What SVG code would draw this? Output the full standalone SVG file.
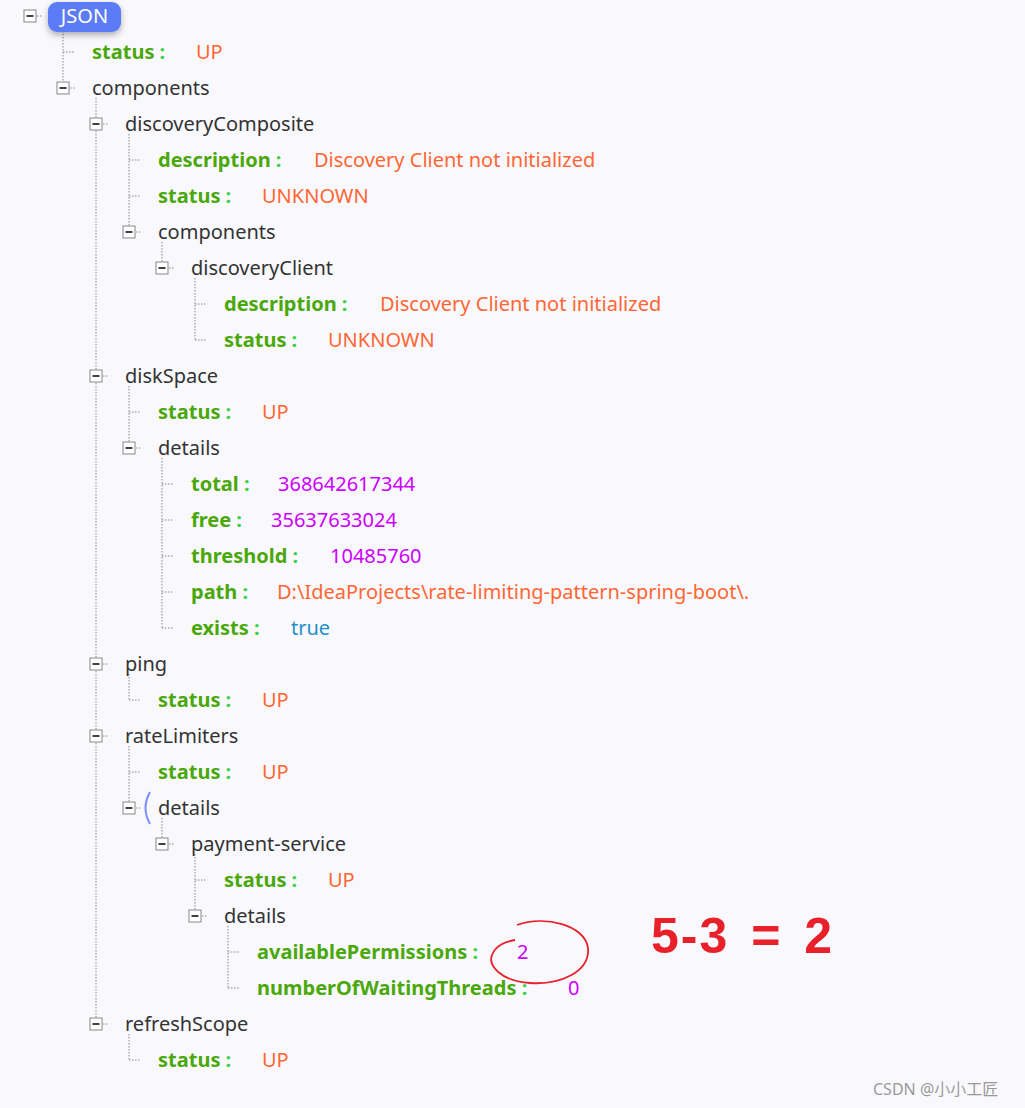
<svg xmlns="http://www.w3.org/2000/svg" width="1025" height="1108" viewBox="0 0 1025 1108">
<defs>
<style>
.ln{stroke:#888;stroke-width:1;stroke-dasharray:1.5 1.5;fill:none}
.bx{fill:#fff;stroke:#888;stroke-width:1}
.mn{stroke:#000;stroke-width:1.5}
text{font-family:"Noto Sans","Open Sans",sans-serif;font-size:20px}
.lb{fill:#333}
.k{fill:#4aa80b;font-weight:bold}
.c{fill:#3fd04a;font-weight:bold}
.s{fill:#ff6633}
.n{fill:#cc00ff}
.b{fill:#1e90c8}
</style>
<filter id="sh" x="-20%" y="-30%" width="140%" height="170%"><feDropShadow dx="0" dy="3" stdDeviation="3" flood-color="#000" flood-opacity="0.3"/></filter>
<symbol id="tg" overflow="visible"><rect class="bx" x="-6" y="-6" width="12" height="12"/><line class="mn" x1="-3.5" y1="0" x2="3.5" y2="0"/><line class="ln" x1="7" y1="0" x2="12" y2="0"/></symbol>
</defs>
<rect width="1025" height="1108" fill="#f9f9fd"/>
<g id="connectors">
<path class="ln" d="M63 28V82 M96 98V1018 M129 134V226 M162 242V262 M195 278V340 M129 386V442 M162 458V628 M129 674V700 M129 746V802 M162 818V838 M195 854V910 M228 926V988 M129 1034V1060"/>
<path class="ln" d="M63 52h12 M129 160h12 M129 196h12 M195 304h12 M195 340h12 M129 412h12 M162 484h12 M162 520h12 M162 556h12 M162 592h12 M162 628h12 M129 700h12 M129 772h12 M195 880h12 M228 952h12 M228 988h12 M129 1060h12"/>
</g>
<g id="toggles">
<use href="#tg" x="30" y="16"/><use href="#tg" x="63" y="88"/><use href="#tg" x="96" y="124"/><use href="#tg" x="129" y="232"/><use href="#tg" x="162" y="268"/><use href="#tg" x="96" y="376"/><use href="#tg" x="129" y="448"/><use href="#tg" x="96" y="664"/><use href="#tg" x="96" y="736"/><use href="#tg" x="129" y="808"/><use href="#tg" x="162" y="844"/><use href="#tg" x="195" y="916"/><use href="#tg" x="96" y="1024"/>
</g>
<g id="root">
<rect x="48" y="2" width="73" height="30" rx="9" fill="#5b7cf7" filter="url(#sh)"/>
<text x="84.5" y="23" text-anchor="middle" fill="#fff">JSON</text>
</g>
<g id="labels">
<text x="92" y="59"><tspan class="k">status</tspan><tspan class="c"> :</tspan></text><text class="s" x="196" y="59">UP</text>
<text class="lb" x="92" y="95">components</text>
<text class="lb" x="125" y="131">discoveryComposite</text>
<text x="158" y="167"><tspan class="k">description</tspan><tspan class="c"> :</tspan></text><text class="s" x="314" y="167">Discovery Client not initialized</text>
<text x="158" y="203"><tspan class="k">status</tspan><tspan class="c"> :</tspan></text><text class="s" x="262" y="203">UNKNOWN</text>
<text class="lb" x="158" y="239">components</text>
<text class="lb" x="191" y="275">discoveryClient</text>
<text x="224" y="311"><tspan class="k">description</tspan><tspan class="c"> :</tspan></text><text class="s" x="380" y="311">Discovery Client not initialized</text>
<text x="224" y="347"><tspan class="k">status</tspan><tspan class="c"> :</tspan></text><text class="s" x="328" y="347">UNKNOWN</text>
<text class="lb" x="125" y="383">diskSpace</text>
<text x="158" y="419"><tspan class="k">status</tspan><tspan class="c"> :</tspan></text><text class="s" x="262" y="419">UP</text>
<text class="lb" x="158" y="455">details</text>
<text x="191" y="491"><tspan class="k">total</tspan><tspan class="c"> :</tspan></text><text class="n" x="278" y="491">368642617344</text>
<text x="191" y="527"><tspan class="k">free</tspan><tspan class="c"> :</tspan></text><text class="n" x="271" y="527">35637633024</text>
<text x="191" y="563"><tspan class="k">threshold</tspan><tspan class="c"> :</tspan></text><text class="n" x="330" y="563">10485760</text>
<text x="191" y="599"><tspan class="k">path</tspan><tspan class="c"> :</tspan></text><text class="s" x="277" y="599">D:\IdeaProjects\rate-limiting-pattern-spring-boot\.</text>
<text x="191" y="635"><tspan class="k">exists</tspan><tspan class="c"> :</tspan></text><text class="b" x="291" y="635">true</text>
<text class="lb" x="125" y="671">ping</text>
<text x="158" y="707"><tspan class="k">status</tspan><tspan class="c"> :</tspan></text><text class="s" x="262" y="707">UP</text>
<text class="lb" x="125" y="743">rateLimiters</text>
<text x="158" y="779"><tspan class="k">status</tspan><tspan class="c"> :</tspan></text><text class="s" x="262" y="779">UP</text>
<path d="M150 792Q141 808 150 824" stroke="#7b8ff5" stroke-width="2" fill="none"/>
<text class="lb" x="158" y="815">details</text>
<text class="lb" x="191" y="851">payment-service</text>
<text x="224" y="887"><tspan class="k">status</tspan><tspan class="c"> :</tspan></text><text class="s" x="328" y="887">UP</text>
<text class="lb" x="224" y="923">details</text>
<text x="257" y="959"><tspan class="k">availablePermissions</tspan><tspan class="c"> :</tspan></text><text class="n" x="517" y="959">2</text>
<text x="257" y="995"><tspan class="k">numberOfWaitingThreads</tspan><tspan class="c"> :</tspan></text><text class="n" x="568" y="995">0</text>
<text class="lb" x="125" y="1031">refreshScope</text>
<text x="158" y="1067"><tspan class="k">status</tspan><tspan class="c"> :</tspan></text><text class="s" x="262" y="1067">UP</text>
</g>
<g id="annotation">
<path d="M517 925C545 915 585 925 588 948C590 972 560 985 530 983C500 981 488 965 492 955C496 945 505 942 515 940" stroke="#e8202a" stroke-width="1.8" fill="none"/>
<text x="651" y="953" style="fill:#e8202a;font-size:50px;font-weight:bold;font-family:'Liberation Sans',sans-serif;letter-spacing:2px;word-spacing:6px">5-3 = 2</text>
<text x="873" y="1095" style="fill:#999;font-size:16px;font-family:'Noto Sans','Noto Sans CJK SC',sans-serif">CSDN @小小工匠</text>
</g>
</svg>
